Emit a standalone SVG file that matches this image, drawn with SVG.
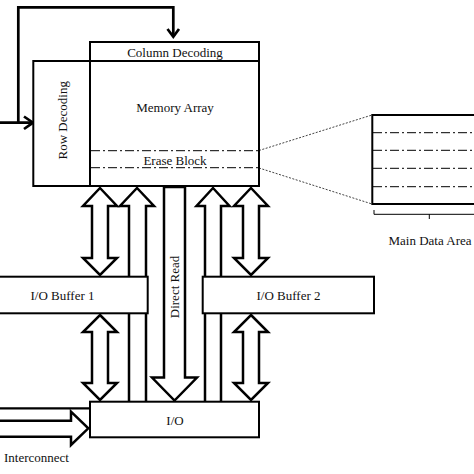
<svg xmlns="http://www.w3.org/2000/svg" width="474" height="474" viewBox="0 0 474 474">
<defs>
<style>
.box{fill:#fff;stroke:#000;stroke-width:2}
.arr{fill:#fff;stroke:#000;stroke-width:2.5;stroke-linejoin:miter}
.ln{fill:none;stroke:#000;stroke-width:2.7}
.dd{fill:none;stroke:#000;stroke-width:1;stroke-dasharray:9 3 2 3}
.zm{fill:none;stroke:#444;stroke-width:1;stroke-dasharray:2 1.5}
.thin{fill:none;stroke:#000;stroke-width:1}
text{font-family:"Liberation Serif","Times New Roman",serif;font-size:13px;fill:#111;text-anchor:middle}
</style>
</defs>
<rect width="474" height="474" fill="#fff"/>
<g id="connectors">
<path class="ln" d="M0,122.7 H32 M18.3,122.7 V7.3 H173.3 V35.5"/>
<polyline class="ln" points="24,116.5 33,122.7 24,129"/>
<polyline class="ln" points="167.5,29 173.3,36.7 179,29"/>
<polygon class="arr" points="100,188 117,206 108,206 108,258 117,258 100,275 83,258 92,258 92,206 83,206"/>
<polygon class="arr" points="100,315 117,332 108,332 108,383 117,383 100,400 83,383 92,383 92,332 83,332"/>
<polygon class="arr" points="251,188 268,206 259,206 259,258 268,258 251,275 234,258 243,258 243,206 234,206"/>
<polygon class="arr" points="251,315 268,332 259,332 259,383 268,383 251,400 234,383 243,383 243,332 234,332"/>
<polyline class="arr" points="129,401 129,206 120,206 137,188 154,206 146,206 146,401"/>
<polyline class="arr" points="205,401 205,206 196.5,206 213,188 229.5,206 221,206 221,401"/>
<polygon class="arr" points="164,187 185,187 185,377.5 197,377.5 174.5,400.5 152,377.5 164,377.5"/>
<polyline class="arr" points="-2,420.7 71,420.7 71,411.7 88.3,428.3 71,445 71,436.7 -2,436.7"/>
<path class="ln" d="M0,408.3 H90" style="stroke-width:2.2"/>
<path class="zm" d="M259,150.5 L372,115 M259,168 L372,204"/>
<path class="thin" d="M374,210 V214.3 H476 M429.3,214.3 V219"/>
</g>
<g id="memory-array">
<rect class="box" x="90" y="42" width="169" height="144"/>
<path class="box" d="M90,61 H259"/>
<text x="175" y="56.5">Column Decoding</text>
<text x="175" y="111.5">Memory Array</text>
<path class="dd" d="M91,150.7 H258 M91,167.7 H258"/>
<text x="175" y="164.5">Erase Block</text>
</g>
<g id="row-decoding">
<rect class="box" x="33.3" y="61" width="56.7" height="125"/>
<text transform="translate(66.5,120.3) rotate(-90)">Row Decoding</text>
</g>
<g id="main-data-area">
<rect class="box" x="372.3" y="115" width="105" height="89"/>
<path class="dd" d="M373,132.7 H476 M373,150.3 H476 M373,168.3 H476 M373,186.7 H476"/>
<text x="430" y="244.5">Main Data Area</text>
</g>
<g id="io-buffer-1">
<rect class="box" x="-5" y="276.7" width="152.7" height="36.6"/>
<text x="62.5" y="299.5">I/O Buffer 1</text>
</g>
<g id="io-buffer-2">
<rect class="box" x="202.7" y="276.7" width="171.3" height="36.6"/>
<text x="288.5" y="299.5">I/O Buffer 2</text>
</g>
<g id="direct-read">
<text transform="translate(179,287) rotate(-90)">Direct Read</text>
</g>
<g id="io">
<rect class="box" x="90" y="401.7" width="169" height="35.6"/>
<text x="175" y="424.5">I/O</text>
</g>
<g id="interconnect">
<text x="36.5" y="461.5">Interconnect</text>
</g>
</svg>
